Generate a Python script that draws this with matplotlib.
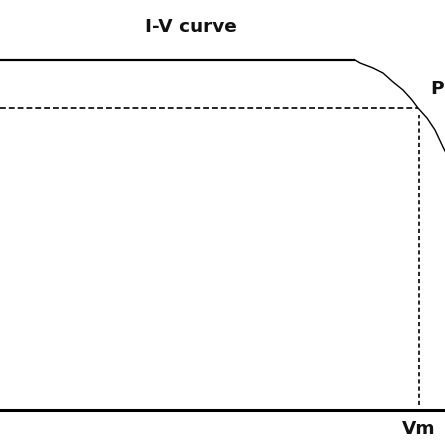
import matplotlib
matplotlib.use("Agg")
import matplotlib.pyplot as plt
import numpy as np

# I-V curve points (voltage in V, current in A)
volts = [0.0, 17.75, 18.0, 18.65, 19.15, 19.65, 20.15, 20.6, 20.9, 21.35, 21.75, 22.15, 22.4]
amps = [5.0, 5.0, 4.957, 4.886, 4.814, 4.686, 4.571, 4.429, 4.314, 4.171, 4.0, 3.757, 3.614]

# maximum power point
vm = 20.9
im = 4.314

title = "I-V curve"
vm_label = "Vm"
pm_label = "P"

plt.rcParams['font.family'] = ['DejaVu Sans']

fig = plt.figure(figsize=(4.45, 4.45), dpi=100)
ax = fig.add_axes([0, 35 / 445, 1, 410 / 445])
ax.set_xlim(0, 22.25)
ax.set_ylim(0, 410 / 70)

ax.plot(volts[:2], amps[:2], color='black', linewidth=1.6, solid_capstyle='butt')
ax.plot(volts[1:], amps[1:], color='black', linewidth=1.0)

# dotted guides to the maximum power point
ax.plot([0, vm], [im, im], color='black', linewidth=1.2, dashes=(3.5, 1.8))
ax.plot([vm + 0.07, vm + 0.07], [0.07, im - 0.1], color='black', linewidth=1.2, dashes=(2.5, 1.8))

for side in ['top', 'right', 'left']:
    ax.spines[side].set_visible(False)
ax.spines['bottom'].set_linewidth(2.2)
ax.set_xticks([])
ax.set_yticks([])
ax.patch.set_alpha(0)

fig.text(191 / 445, 1 - 27 / 445, title, ha='center', va='center',
         fontsize=13.3, fontweight='bold', color='#111111')
ax.annotate(vm_label, xy=(vm, 0), xytext=(0.5, -13.5), textcoords='offset points',
            ha='center', va='center', fontsize=13.3, fontweight='bold', color='#111111')
ax.annotate(pm_label, xy=(vm, im), xytext=(8.5, 13.5), textcoords='offset points',
            ha='left', va='center', fontsize=13.3, fontweight='bold', color='#111111')

fig.savefig("out.png", dpi=100)
